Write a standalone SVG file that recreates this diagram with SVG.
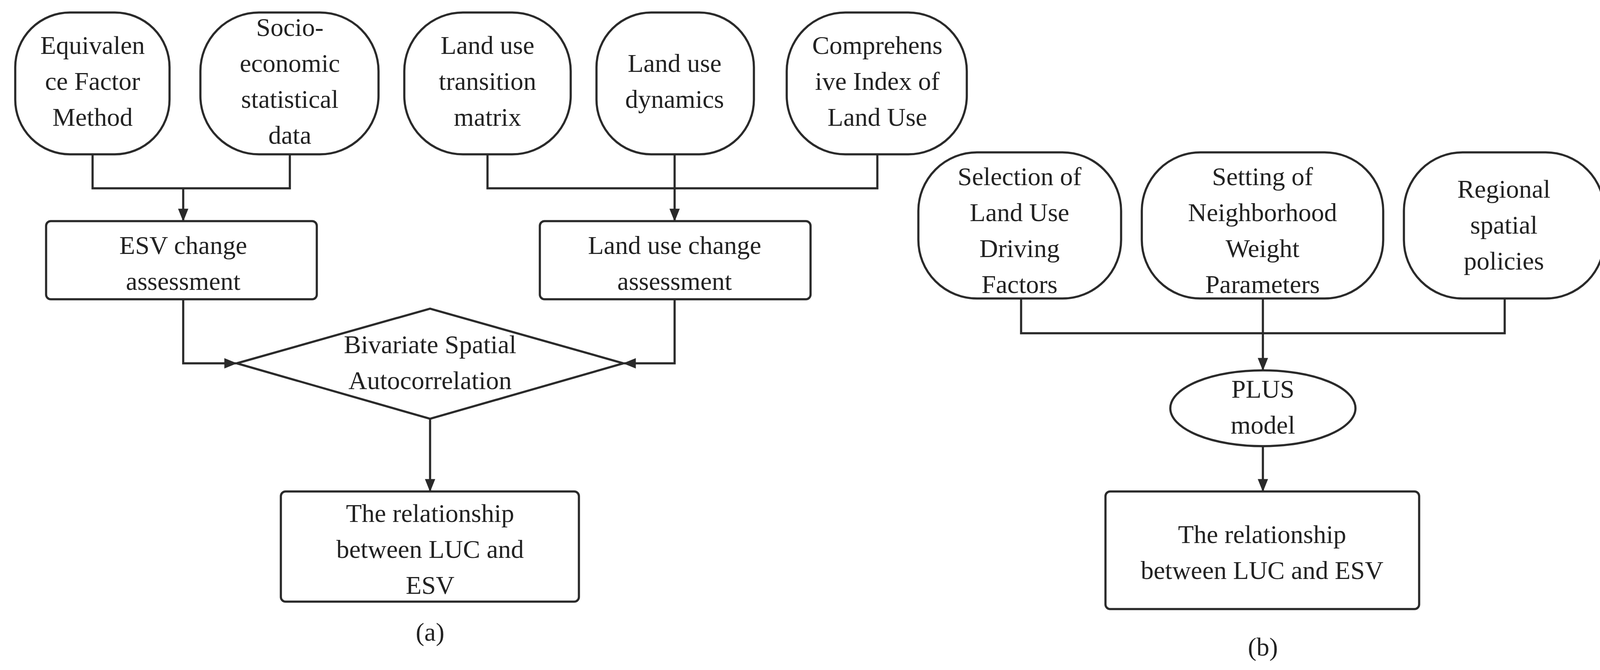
<svg xmlns="http://www.w3.org/2000/svg" width="4128" height="1715" viewBox="0 0 4128 1715">
<style>
.n{fill:#fff;stroke:#2a2a2a;stroke-width:5.5}
.c{fill:none;stroke:#2a2a2a;stroke-width:5.5}
text{font-family:"Liberation Serif",serif;font-size:66px;fill:#222;text-anchor:middle}
</style>
<defs><marker id="a" viewBox="0 0 10 10" refX="9" refY="5" markerWidth="6" markerHeight="6" markerUnits="strokeWidth" orient="auto"><path d="M0,1 L10,5 L0,9 Z" fill="#2a2a2a"/></marker></defs>
<rect width="4128" height="1715" fill="#fff"/>
<g id="connectors">
<path class="c" d="M237,395 V482 H742 V395"/>
<path class="c" d="M469,482 V564" marker-end="url(#a)"/>
<path class="c" d="M1248,395 V482 H2246 V395"/>
<path class="c" d="M1727,395 V564" marker-end="url(#a)"/>
<path class="c" d="M469,766 V930 H604" marker-end="url(#a)"/>
<path class="c" d="M1727,766 V930 H1598" marker-end="url(#a)"/>
<path class="c" d="M1101,1072 V1256" marker-end="url(#a)"/>
<path class="c" d="M2614,764 V853 H3852 V764"/>
<path class="c" d="M3233,764 V946" marker-end="url(#a)"/>
<path class="c" d="M3233,1142 V1256" marker-end="url(#a)"/>
</g>
<g id="n1"><rect class="n" x="39" y="32" width="395" height="363" rx="140"/><text x="237" y="138">Equivalen</text><text x="237" y="230">ce Factor</text><text x="237" y="322">Method</text></g>
<g id="n2"><rect class="n" x="513" y="32" width="456" height="363" rx="150"/><text x="742" y="92">Socio-</text><text x="742" y="184">economic</text><text x="742" y="276">statistical</text><text x="742" y="368">data</text></g>
<g id="n3"><rect class="n" x="1035" y="32" width="426" height="363" rx="150"/><text x="1248" y="138">Land use</text><text x="1248" y="230">transition</text><text x="1248" y="322">matrix</text></g>
<g id="n4"><rect class="n" x="1527" y="32" width="403" height="363" rx="140"/><text x="1727" y="184">Land use</text><text x="1727" y="276">dynamics</text></g>
<g id="n5"><rect class="n" x="2014" y="32" width="461" height="363" rx="150"/><text x="2246" y="138">Comprehens</text><text x="2246" y="230">ive Index of</text><text x="2246" y="322">Land Use</text></g>
<g id="esv"><rect class="n" x="118" y="566" width="693" height="200" rx="12"/><text x="469" y="650">ESV change</text><text x="469" y="742">assessment</text></g>
<g id="luc"><rect class="n" x="1382" y="566" width="693" height="200" rx="12"/><text x="1727" y="650">Land use change</text><text x="1727" y="742">assessment</text></g>
<g id="dia"><polygon class="n" points="606,930 1101,790 1596,930 1101,1072"/><text x="1101" y="904">Bivariate Spatial</text><text x="1101" y="996">Autocorrelation</text></g>
<g id="ra"><rect class="n" x="719" y="1258" width="763" height="282" rx="12"/><text x="1101" y="1336">The relationship</text><text x="1101" y="1428">between LUC and</text><text x="1101" y="1520">ESV</text></g>
<text x="1101" y="1640">(a)</text>
<g id="b1"><rect class="n" x="2351" y="390" width="519" height="374" rx="150"/><text x="2610" y="474">Selection of</text><text x="2610" y="566">Land Use</text><text x="2610" y="658">Driving</text><text x="2610" y="750">Factors</text></g>
<g id="b2"><rect class="n" x="2923" y="390" width="618" height="374" rx="150"/><text x="3232" y="474">Setting of</text><text x="3232" y="566">Neighborhood</text><text x="3232" y="658">Weight</text><text x="3232" y="750">Parameters</text></g>
<g id="b3"><rect class="n" x="3594" y="390" width="513" height="374" rx="150"/><text x="3850" y="506">Regional</text><text x="3850" y="598">spatial</text><text x="3850" y="690">policies</text></g>
<g id="plus"><ellipse class="n" cx="3233" cy="1045" rx="237" ry="97"/><text x="3233" y="1018">PLUS</text><text x="3233" y="1110">model</text></g>
<g id="rb"><rect class="n" x="2830" y="1258" width="803" height="301" rx="12"/><text x="3231" y="1390">The relationship</text><text x="3231" y="1482">between LUC and ESV</text></g>
<text x="3233" y="1678">(b)</text>
</svg>
